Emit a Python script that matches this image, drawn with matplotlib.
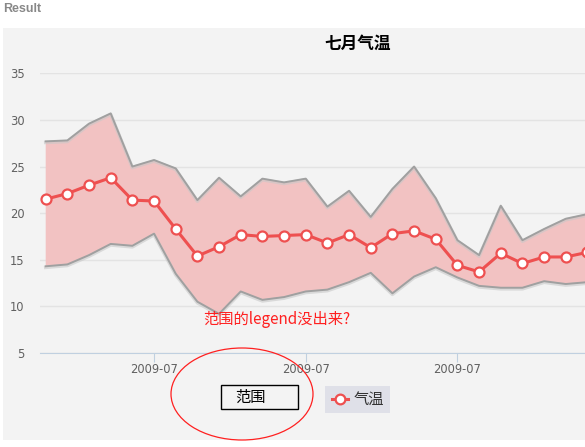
import numpy as np
import matplotlib
matplotlib.use("Agg")
import matplotlib.pyplot as plt
import matplotlib.dates as mdates
from matplotlib.patches import Rectangle, Ellipse
from matplotlib.lines import Line2D

plt.rcParams['font.family'] = ['Noto Sans CJK SC', 'DejaVu Sans']

# July 2009 temperatures
days = np.arange('2009-07-01', '2009-08-01', dtype='datetime64[D]')
low = [14.3, 14.5, 15.5, 16.7, 16.5, 17.8, 13.5, 10.5, 9.2, 11.6, 10.7, 11.0,
       11.6, 11.8, 12.6, 13.6, 11.4, 13.2, 14.2, 13.1, 12.2, 12.0, 12.0, 12.7,
       12.4, 12.6, 11.9, 11.0, 10.8, 11.8, 10.8]
high = [27.7, 27.8, 29.6, 30.7, 25.0, 25.7, 24.8, 21.4, 23.8, 21.8, 23.7, 23.3,
        23.7, 20.7, 22.4, 19.6, 22.6, 25.0, 21.6, 17.1, 15.5, 20.8, 17.1, 18.3,
        19.4, 19.9, 20.2, 19.3, 17.8, 18.5, 16.1]
avg = [21.5, 22.1, 23.0, 23.8, 21.4, 21.3, 18.3, 15.4, 16.4, 17.7, 17.5, 17.6,
       17.7, 16.8, 17.7, 16.3, 17.8, 18.1, 17.2, 14.4, 13.7, 15.7, 14.6, 15.3,
       15.3, 15.8, 15.2, 14.8, 14.4, 15.0, 13.6]
yticks = [5, 10, 15, 20, 25, 30, 35]

title = '七月气温'
range_name = '范围'
avg_name = '气温'
note = '范围的legend没出来?'

W, H = 585, 447
fig = plt.figure(figsize=(W / 100, H / 100), dpi=100)
fig.patch.set_facecolor('white')

def fx(px):
    return px / W

def fy(py):
    return (H - py) / H

# chart background panel (below the axes)
fig.patches.append(Rectangle((fx(3), fy(440)), fx(582), 412 / H,
                             transform=fig.transFigure, facecolor='#f3f3f3',
                             edgecolor='none', zorder=-5))

# plot area ends at the picture's right edge, like the clipped screenshot
ax = fig.add_axes([fx(40), fy(353), (585 - 40) / W, (353 - 73.3) / H])
ax.set_facecolor('none')

x = mdates.date2num(days.astype('datetime64[ms]').astype(object))
red = '#ee5050'

ax.fill_between(x, low, high, color='#f2c2c2', lw=0, zorder=2)
for s in (low, high):
    ax.plot(x, np.array(s) - 0.12, color='#c8c8c8', lw=2.5, alpha=0.6, zorder=2)
    ax.plot(x, s, color='#a0a0a0', lw=1.4, zorder=3)
ax.plot(x, avg, color=red, lw=2.2, marker='o', ms=7.2, mfc='white', mec=red,
        mew=1.6, zorder=5, clip_on=False)

ax.set_ylim(5, 35)
ax.set_xlim(x[0] - 0.263, x[0] + (585 - 45.7) / 21.67)
ax.set_yticks(yticks)
ax.yaxis.grid(True, color='#e3e3e3', lw=1)
ax.set_axisbelow(True)
ax.xaxis.set_major_locator(mdates.WeekdayLocator(byweekday=mdates.MO))
ax.xaxis.set_major_formatter(mdates.DateFormatter('%Y-%m'))
for side in ('left', 'right', 'top'):
    ax.spines[side].set_visible(False)
ax.spines['bottom'].set_color('#c0d0e0')
ax.tick_params(axis='x', length=6.5, color='#c0d0e0', labelcolor='#606060',
               labelsize=8.3, pad=1)
ax.tick_params(axis='y', length=0, labelcolor='#606060', labelsize=8.3, pad=11)
for lab in ax.get_xticklabels() + ax.get_yticklabels():
    lab.set_family('DejaVu Sans')

fig.text(fx(358), fy(44), title, ha='center', va='center', fontsize=12,
         fontweight='bold', color='black')
fig.text(fx(3), fy(9), 'Result', ha='left', va='center', fontsize=9,
         fontweight='bold', color='#888888', family='Liberation Sans')

# annotation
fig.text(fx(203), fy(320), note, ha='left', va='center', fontsize=11,
         color='#ff2020')

# legend: range box (drawn by hand) and series item
fig.patches.append(Rectangle((fx(221), fy(409)), fx(77), 24 / H,
                             transform=fig.transFigure, facecolor='none',
                             edgecolor='black', lw=1, zorder=3))
fig.text(fx(250), fy(397), range_name, ha='center', va='center',
         fontsize=11, color='black')
fig.patches.append(Rectangle((fx(325), fy(413)), fx(65), 27 / H,
                             transform=fig.transFigure, facecolor='#dfe0e8',
                             edgecolor='none', zorder=3))
fig.lines.append(Line2D([fx(332), fx(348)], [fy(399), fy(399)],
                        transform=fig.transFigure, color=red, lw=2.2,
                        zorder=4))
fig.lines.append(Line2D([fx(340)], [fy(399)], transform=fig.transFigure,
                        marker='o', ms=7, mfc='white', mec=red, mew=1.6,
                        zorder=5))
fig.text(fx(354), fy(399), avg_name, ha='left', va='center', fontsize=11,
         color='#333333')

fig.patches.append(Ellipse((fx(242), fy(394)), fx(142), 92 / H,
                           transform=fig.transFigure, facecolor='none',
                           edgecolor='#ff2020', lw=0.9, zorder=6))

fig.savefig('out.png', dpi=100)
